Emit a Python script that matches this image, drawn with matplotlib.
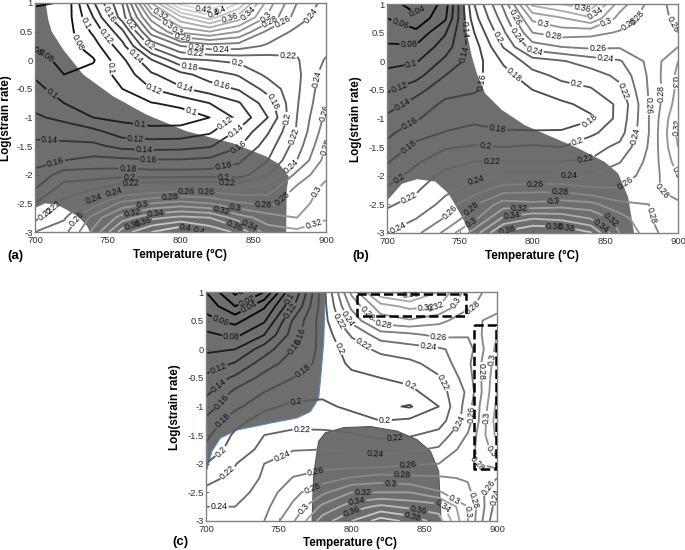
import numpy as np
import matplotlib
matplotlib.use("Agg")
import matplotlib.pyplot as plt

plt.rcParams['font.family'] = ['Liberation Sans', 'DejaVu Sans']

# grid, power dissipation values
temps = [700, 720, 740, 760, 780, 800, 820, 840, 860, 880, 900]
rates = [1, .75, .5, .25, 0, -.25, -.5, -.75, -1, -1.25, -1.5, -1.75, -2, -2.25, -2.5, -2.75, -3]
levels = np.arange(0, .46, .02)

z_a = [
    [.058, .061, .137, .200, .340, .430, .450, .400, .310, .260, .232],
    [.066, .066, .120, .190, .290, .355, .390, .350, .297, .250, .228],
    [.072, .068, .104, .155, .250, .305, .320, .300, .255, .235, .226],
    [.078, .070, .090, .133, .205, .240, .252, .250, .237, .225, .234],
    [.087, .075, .078, .115, .158, .195, .200, .205, .210, .218, .242],
    [.097, .080, .088, .107, .137, .153, .170, .182, .205, .215, .250],
    [.106, .090, .086, .100, .120, .137, .150, .162, .187, .216, .254],
    [.114, .100, .093, .093, .099, .105, .120, .138, .170, .218, .258],
    [.123, .115, .100, .095, .090, .090, .100, .125, .160, .220, .265],
    [.134, .131, .126, .110, .107, .108, .117, .144, .178, .222, .272],
    [.145, .145, .145, .134, .132, .133, .138, .158, .190, .230, .280],
    [.154, .160, .166, .165, .162, .162, .165, .177, .200, .240, .288],
    [.165, .190, .190, .192, .190, .190, .190, .190, .218, .266, .296],
    [.180, .210, .220, .237, .245, .250, .250, .243, .250, .285, .306],
    [.200, .225, .250, .286, .300, .308, .300, .283, .275, .290, .312],
    [.215, .237, .287, .330, .355, .365, .360, .330, .310, .300, .318],
    [.240, .253, .305, .370, .400, .420, .395, .375, .330, .325, .330],
]
z_b = [
    [.050, .030, .070, .180, .245, .345, .360, .375, .310, .275, .250],
    [.060, .045, .077, .172, .230, .305, .318, .337, .292, .272, .255],
    [.070, .065, .098, .160, .216, .280, .290, .286, .278, .268, .260],
    [.083, .083, .110, .151, .201, .250, .260, .264, .262, .268, .280],
    [.095, .098, .125, .150, .183, .210, .218, .230, .238, .265, .300],
    [.105, .113, .140, .155, .172, .193, .205, .210, .225, .263, .305],
    [.117, .133, .153, .158, .168, .180, .192, .198, .215, .262, .305],
    [.130, .148, .164, .167, .165, .170, .176, .186, .204, .260, .310],
    [.145, .158, .172, .175, .170, .170, .172, .177, .207, .260, .320],
    [.155, .173, .181, .187, .183, .182, .182, .196, .212, .260, .325],
    [.166, .185, .198, .202, .200, .203, .200, .212, .225, .262, .320],
    [.178, .197, .212, .220, .220, .220, .220, .222, .239, .265, .310],
    [.190, .208, .226, .235, .240, .240, .240, .240, .250, .268, .300],
    [.204, .218, .235, .250, .272, .275, .275, .265, .262, .274, .290],
    [.218, .225, .247, .278, .310, .305, .310, .306, .285, .280, .276],
    [.225, .240, .262, .295, .345, .360, .355, .340, .310, .282, .262],
    [.240, .255, .285, .330, .385, .400, .400, .382, .320, .290, .260],
]
z_c = [
    [.040, -.005, .020, .100, .190, .285, .355, .370, .340, .290, .270],
    [.055, .020, .057, .118, .190, .265, .312, .325, .320, .283, .270],
    [.065, .054, .077, .143, .190, .245, .290, .298, .285, .270, .290],
    [.085, .075, .100, .150, .188, .222, .250, .255, .265, .262, .300],
    [.097, .100, .130, .160, .186, .210, .225, .232, .237, .250, .305],
    [.108, .122, .150, .170, .185, .204, .210, .215, .228, .255, .310],
    [.125, .144, .167, .180, .187, .195, .200, .205, .218, .250, .315],
    [.135, .165, .180, .190, .195, .192, .190, .195, .210, .244, .320],
    [.150, .175, .195, .205, .205, .195, .185, .178, .200, .250, .325],
    [.165, .192, .210, .214, .215, .210, .200, .204, .210, .250, .330],
    [.175, .204, .220, .224, .223, .222, .215, .218, .227, .262, .325],
    [.185, .210, .225, .239, .240, .238, .235, .237, .243, .270, .310],
    [.200, .219, .240, .250, .252, .250, .250, .257, .260, .275, .290],
    [.214, .225, .243, .261, .270, .282, .290, .285, .283, .278, .260],
    [.225, .232, .248, .274, .295, .320, .320, .320, .302, .285, .240],
    [.240, .240, .254, .284, .325, .350, .365, .355, .350, .300, .230],
    [.245, .250, .260, .298, .350, .380, .410, .395, .370, .300, .220],
]

# shaded regions
shade_a_t = [700, 707.3, 709.1, 711.4, 719.4, 733.1, 753.7, 776.6, 804, 836, 858.9, 868, 874.4, 873, 872.6,
             737.7, 735.9, 729.7, 721.7, 714.9, 706.9, 700]
shade_a_r = [1, 1, .71, .505, .185, -.25, -.63, -.95, -1.24, -1.45, -1.68, -1.82, -2.03, -2.26, -3,
             -3, -2.9, -2.73, -2.61, -2.52, -2.5, -2.58]
shade_b_t = [700, 753.3, 754.9, 758.3, 761.7, 767.4, 778.9, 794.9, 813.1, 831.4, 849.7, 858.9, 865.7, 869.8,
             757.1, 750.3, 742.3, 733.1, 720.6, 710.3, 702.3, 700]
shade_b_r = [1, 1, .49, .08, -.21, -.56, -.85, -1.12, -1.32, -1.52, -1.76, -1.96, -2.37, -3,
             -3, -2.66, -2.31, -2.1, -2.06, -2.14, -2.37, -2.43]
shade_c1_t = [700, 782, 780.9, 779, 777.4, 771.7, 762.5, 744.2, 721.3, 709.9, 704.1, 700.7]
shade_c1_r = [1, 1, .13, -.45, -.86, -1.09, -1.2, -1.29, -1.41, -1.55, -1.78, -2.1]
shade_c2_t = [772.9, 774, 777.4, 782, 794.6, 812.9, 831.3, 845, 854.2, 859.9, 861.5]
shade_c2_r = [-3, -2.19, -1.61, -1.46, -1.37, -1.35, -1.43, -1.58, -1.78, -2.13, -3]

# where the contour labels sit
labels_a = [(704, .56), (731, .33), (703.5, -.08), (710, -.63), (710, -1.42), (714, -1.77), (754, -.13),
            (737, .68), (751, .8), (749, .42), (767, .65), (777, .24), (770, .1), (806, -.11), (810, .1),
            (828, .16), (839, -.04), (874, .1), (782, -.48), (803, -.48), (828, -.46), (862, -.75),
            (807, -.92), (772, -1.18), (769, -1.37), (775, -1.57), (778, -1.75), (764, -1.94), (765, -2.06),
            (766, -2.17), (754, -2.31), (741, -2.46), (793, -2.38), (804, -2.33), (818, -2.26), (832, -2.15),
            (830, -2.08), (830, -1.92), (841, -1.56), (839, -1.27), (831, -1.11), (875, -1.04), (878, -1.33),
            (877, -1.88), (868, -2.35), (857, -2.54), (895, -2.32), (892, -2.9), (898, -.34), (897, -.9),
            (897, -1.5), (837, -2.6), (828, -2.65), (847, -2.9), (837, -2.9), (813, -2.95), (803, -2.98),
            (783, -2.67), (774, -2.81), (768, -2.93), (767, -2.67), (774, -2.54), (731, -2.81), (709, -2.73),
            (707, -2.56), (787, .83), (791, .64), (797, .49), (801, .37), (811, .25), (816, .93), (822, .85),
            (827, .85), (834, .77), (847, .8), (859, .74), (862, .65), (870, .68), (886, .83)]
labels_b = [(724, .81), (707, .52), (715, .2), (717, -.08), (709, -.49), (711, -.77), (715, -1.06), (715, -1.51),
            (709, -2.07), (716, -2.43), (709, -2.98), (743, -2.63), (758, -2.56), (757, -2.79), (761, -2.07),
            (772, -1.76), (768, -1.48), (776, -1.2), (770, -.39), (756, .11), (752, .55), (776, .43), (787, -.24),
            (788, .44), (801, .14), (786, .75), (807, .63), (814, .43), (845, .2), (850, .03), (830, -.43),
            (857, -.56), (839, -1.04), (832, -1.47), (837, -1.79), (825, -2.05), (802, -2.14), (819, -2.28),
            (814, -2.38), (791, -2.53), (786, -2.72), (782, -2.9), (823, -2.9), (815, -2.97), (847, -2.88),
            (853, -2.78), (866, -2.21), (877, -2.72), (873, -1.32), (878, -.77), (890, -.56), (898, -.36),
            (898, -1.15), (895, -1.99), (890, -2.22), (877, .57), (891, .57), (870, .75), (850, .72), (844, .81),
            (834, .9)]
labels_c = [(726, .94), (729, .8), (730, .71), (709, .42), (717, .18), (758, .88), (760, .64), (761, .28),
            (762, .04), (767, -.39), (762, -.94), (709, -.36), (709, -.63), (710, -.9), (712, -1.26), (710, -1.78),
            (714, -2.13), (709, -2.84), (752, -1.85), (766, -1.37), (775, -2.1), (773, -2.42), (768, -2.8),
            (808, -2.51), (804, -2.7), (800, -2.84), (846, -2.83), (842, -2.94), (827, -2.32), (835, -2.16),
            (839, -2.06), (816, -1.84), (830, -1.58), (823, -1.29), (841, -.59), (862, -.59), (874, -1.29),
            (883, -1.14), (887, -.39), (894, -.16), (894, -1.2), (895, -1.81), (886, -2.04), (789, -.01),
            (807, .04), (853, .06), (860, .19), (792, .51), (798, .54), (822, .42), (813, .68), (884, .68),
            (875, .77), (858, .74), (851, .81), (841, .93), (870, -2.66), (862, -2.77), (878, -2.83),
            (883, -2.65), (894, -2.42), (897, -2.57)]

xticks = [700, 750, 800, 850, 900]
yticks = [-3, -2.5, -2, -1.5, -1, -.5, 0, .5, 1]
yticklabels = ['-3', '-2.5', '-2', '-1.5', '-1', '-0.5', '0', '0.5', '1']

W, H = 685, 550
fig = plt.figure(figsize=(W / 100, H / 100), dpi=100)


def panel(left, top, z, shades, labs, tag, xlab_pos, ylab_x, tag_pos):
    ax = fig.add_axes([left / W, 1 - (top + 229) / H, 291 / W, 229 / H])
    for t, r, edge in shades:
        ax.fill(t, r, facecolor='#6e6e6e', edgecolor=edge, lw=0.8, zorder=1)
    cs = ax.contour(temps, rates, np.array(z), levels=levels, cmap='gray', vmin=.05, vmax=.48,
                    linewidths=1.35, zorder=2)
    ax.clabel(cs, manual=labs, fontsize=6.3, fmt='%g', colors='#111111', inline=True, inline_spacing=1)
    ax.set_xlim(700, 900)
    ax.set_ylim(-3, 1)
    ax.set_xticks(xticks)
    ax.set_yticks(yticks)
    ax.set_yticklabels(yticklabels)
    ax.tick_params(direction='in', length=2, width=.6, labelsize=6.8, pad=1.5, color='#555555', labelcolor='#333333')
    ax.tick_params(axis='x', pad=3.2)
    for s in ax.spines.values():
        s.set_color('#808080')
        s.set_linewidth(1)
    fig.text(xlab_pos[0] / W, 1 - xlab_pos[1] / H, 'Temperature (°C)', fontsize=8.4, fontweight='bold',
             ha='center', va='center')
    fig.text(ylab_x / W, 1 - (top + 115) / H, 'Log(strain rate)', fontsize=8.4, fontweight='bold',
             rotation=90, ha='center', va='center')
    fig.text(tag_pos[0] / W, 1 - tag_pos[1] / H, tag, fontsize=9.5, fontweight='bold', ha='left', va='center')
    return ax


panel(35, 3, z_a, [(shade_a_t, shade_a_r, 'none')], labels_a, '(a)', (180, 255), 6, (7, 256))
panel(387, 4, z_b, [(shade_b_t, shade_b_r, 'none')], labels_b, '(b)', (532, 256), 356, (352, 256))
ax_c = panel(206, 292, z_c, [(shade_c1_t, shade_c1_r, '#5b8cc0'), (shade_c2_t, shade_c2_r, '#555555')],
             labels_c, '(c)', (350, 543), 175, (172, 542))

# dashed boxes on panel c
ax_c.plot([803.8, 878.9, 878.9, 803.8, 803.8], [.97, .97, .58, .58, .97], color='k', ls='--', lw=1.8, zorder=3)
ax_c.plot([884, 899.5, 899.5, 884, 884], [.43, .43, -2.1, -2.1, .43], color='k', ls='--', lw=1.8, zorder=3)

fig.savefig('out.png', dpi=100)
